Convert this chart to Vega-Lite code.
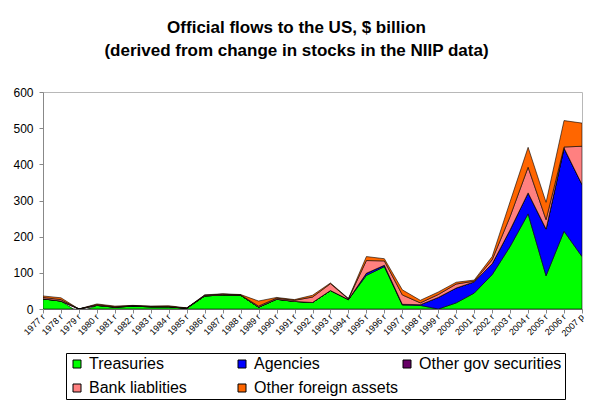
{
"$schema": "https://vega.github.io/schema/vega-lite/v6.json",
"width": 539, "height": 217,
"autosize": "none",
"padding": {"left": 43, "top": 92, "right": 11, "bottom": 96},
"background": "white",
"title": {"text": ["Official flows to the US, $ billion", "(derived from change in stocks in the NIIP data)"], "font": "Liberation Sans", "fontSize": 17, "fontWeight": "bold", "color": "black", "anchor": "middle", "dx": -16, "offset": 26, "lineHeight": 23},
"data": {"values": [
{"year":"1977 r","series":"Treasuries","value":28},{"year":"1977 r","series":"Agencies","value":0},{"year":"1977 r","series":"Other gov securities","value":0},{"year":"1977 r","series":"Bank liablities","value":4},{"year":"1977 r","series":"Other foreign assets","value":4},
{"year":"1978 r","series":"Treasuries","value":22},{"year":"1978 r","series":"Agencies","value":0},{"year":"1978 r","series":"Other gov securities","value":0},{"year":"1978 r","series":"Bank liablities","value":4},{"year":"1978 r","series":"Other foreign assets","value":5},
{"year":"1979 r","series":"Treasuries","value":-10},{"year":"1979 r","series":"Agencies","value":0},{"year":"1979 r","series":"Other gov securities","value":0},{"year":"1979 r","series":"Bank liablities","value":0},{"year":"1979 r","series":"Other foreign assets","value":0},
{"year":"1980 r","series":"Treasuries","value":10},{"year":"1980 r","series":"Agencies","value":0},{"year":"1980 r","series":"Other gov securities","value":0},{"year":"1980 r","series":"Bank liablities","value":2},{"year":"1980 r","series":"Other foreign assets","value":2},
{"year":"1981 r","series":"Treasuries","value":5},{"year":"1981 r","series":"Agencies","value":0},{"year":"1981 r","series":"Other gov securities","value":0},{"year":"1981 r","series":"Bank liablities","value":1},{"year":"1981 r","series":"Other foreign assets","value":2},
{"year":"1982 r","series":"Treasuries","value":8},{"year":"1982 r","series":"Agencies","value":0},{"year":"1982 r","series":"Other gov securities","value":0},{"year":"1982 r","series":"Bank liablities","value":1},{"year":"1982 r","series":"Other foreign assets","value":1},
{"year":"1983 r","series":"Treasuries","value":6},{"year":"1983 r","series":"Agencies","value":0},{"year":"1983 r","series":"Other gov securities","value":0},{"year":"1983 r","series":"Bank liablities","value":1},{"year":"1983 r","series":"Other foreign assets","value":1},
{"year":"1984 r","series":"Treasuries","value":6},{"year":"1984 r","series":"Agencies","value":0},{"year":"1984 r","series":"Other gov securities","value":0},{"year":"1984 r","series":"Bank liablities","value":1},{"year":"1984 r","series":"Other foreign assets","value":2},
{"year":"1985 r","series":"Treasuries","value":2},{"year":"1985 r","series":"Agencies","value":0},{"year":"1985 r","series":"Other gov securities","value":0},{"year":"1985 r","series":"Bank liablities","value":0},{"year":"1985 r","series":"Other foreign assets","value":1},
{"year":"1986 r","series":"Treasuries","value":36},{"year":"1986 r","series":"Agencies","value":0},{"year":"1986 r","series":"Other gov securities","value":0},{"year":"1986 r","series":"Bank liablities","value":2},{"year":"1986 r","series":"Other foreign assets","value":1},
{"year":"1987 r","series":"Treasuries","value":39},{"year":"1987 r","series":"Agencies","value":0},{"year":"1987 r","series":"Other gov securities","value":0},{"year":"1987 r","series":"Bank liablities","value":2},{"year":"1987 r","series":"Other foreign assets","value":1},
{"year":"1988 r","series":"Treasuries","value":38},{"year":"1988 r","series":"Agencies","value":0},{"year":"1988 r","series":"Other gov securities","value":0},{"year":"1988 r","series":"Bank liablities","value":1},{"year":"1988 r","series":"Other foreign assets","value":1},
{"year":"1989 r","series":"Treasuries","value":5},{"year":"1989 r","series":"Agencies","value":0},{"year":"1989 r","series":"Other gov securities","value":0},{"year":"1989 r","series":"Bank liablities","value":3},{"year":"1989 r","series":"Other foreign assets","value":14},
{"year":"1990 r","series":"Treasuries","value":27},{"year":"1990 r","series":"Agencies","value":0},{"year":"1990 r","series":"Other gov securities","value":0},{"year":"1990 r","series":"Bank liablities","value":3},{"year":"1990 r","series":"Other foreign assets","value":2},
{"year":"1991 r","series":"Treasuries","value":21},{"year":"1991 r","series":"Agencies","value":0},{"year":"1991 r","series":"Other gov securities","value":0},{"year":"1991 r","series":"Bank liablities","value":3},{"year":"1991 r","series":"Other foreign assets","value":2},
{"year":"1992 r","series":"Treasuries","value":18},{"year":"1992 r","series":"Agencies","value":0},{"year":"1992 r","series":"Other gov securities","value":0},{"year":"1992 r","series":"Bank liablities","value":15},{"year":"1992 r","series":"Other foreign assets","value":5},
{"year":"1993 r","series":"Treasuries","value":51},{"year":"1993 r","series":"Agencies","value":0},{"year":"1993 r","series":"Other gov securities","value":0},{"year":"1993 r","series":"Bank liablities","value":19},{"year":"1993 r","series":"Other foreign assets","value":2},
{"year":"1994 r","series":"Treasuries","value":26},{"year":"1994 r","series":"Agencies","value":0},{"year":"1994 r","series":"Other gov securities","value":0},{"year":"1994 r","series":"Bank liablities","value":2},{"year":"1994 r","series":"Other foreign assets","value":1},
{"year":"1995 r","series":"Treasuries","value":93},{"year":"1995 r","series":"Agencies","value":6},{"year":"1995 r","series":"Other gov securities","value":0},{"year":"1995 r","series":"Bank liablities","value":35},{"year":"1995 r","series":"Other foreign assets","value":11},
{"year":"1996 r","series":"Treasuries","value":117},{"year":"1996 r","series":"Agencies","value":4},{"year":"1996 r","series":"Other gov securities","value":0},{"year":"1996 r","series":"Bank liablities","value":12},{"year":"1996 r","series":"Other foreign assets","value":6},
{"year":"1997 r","series":"Treasuries","value":11},{"year":"1997 r","series":"Agencies","value":2},{"year":"1997 r","series":"Other gov securities","value":0},{"year":"1997 r","series":"Bank liablities","value":26},{"year":"1997 r","series":"Other foreign assets","value":14},
{"year":"1998 r","series":"Treasuries","value":10},{"year":"1998 r","series":"Agencies","value":2},{"year":"1998 r","series":"Other gov securities","value":0},{"year":"1998 r","series":"Bank liablities","value":5},{"year":"1998 r","series":"Other foreign assets","value":7},
{"year":"1999 r","series":"Treasuries","value":0},{"year":"1999 r","series":"Agencies","value":32},{"year":"1999 r","series":"Other gov securities","value":0},{"year":"1999 r","series":"Bank liablities","value":8},{"year":"1999 r","series":"Other foreign assets","value":7},
{"year":"2000 r","series":"Treasuries","value":17},{"year":"2000 r","series":"Agencies","value":41},{"year":"2000 r","series":"Other gov securities","value":0},{"year":"2000 r","series":"Bank liablities","value":11},{"year":"2000 r","series":"Other foreign assets","value":5},
{"year":"2001 r","series":"Treasuries","value":44},{"year":"2001 r","series":"Agencies","value":31},{"year":"2001 r","series":"Other gov securities","value":0},{"year":"2001 r","series":"Bank liablities","value":2},{"year":"2001 r","series":"Other foreign assets","value":3},
{"year":"2002 r","series":"Treasuries","value":95},{"year":"2002 r","series":"Agencies","value":30},{"year":"2002 r","series":"Other gov securities","value":0},{"year":"2002 r","series":"Bank liablities","value":11},{"year":"2002 r","series":"Other foreign assets","value":9},
{"year":"2003 r","series":"Treasuries","value":173},{"year":"2003 r","series":"Agencies","value":46},{"year":"2003 r","series":"Other gov securities","value":0},{"year":"2003 r","series":"Bank liablities","value":37},{"year":"2003 r","series":"Other foreign assets","value":41},
{"year":"2004 r","series":"Treasuries","value":263},{"year":"2004 r","series":"Agencies","value":58},{"year":"2004 r","series":"Other gov securities","value":0},{"year":"2004 r","series":"Bank liablities","value":71},{"year":"2004 r","series":"Other foreign assets","value":55},
{"year":"2005 r","series":"Treasuries","value":92},{"year":"2005 r","series":"Agencies","value":129},{"year":"2005 r","series":"Other gov securities","value":0},{"year":"2005 r","series":"Bank liablities","value":26},{"year":"2005 r","series":"Other foreign assets","value":48},
{"year":"2006 r","series":"Treasuries","value":215},{"year":"2006 r","series":"Agencies","value":230},{"year":"2006 r","series":"Other gov securities","value":0},{"year":"2006 r","series":"Bank liablities","value":3},{"year":"2006 r","series":"Other foreign assets","value":73},
{"year":"2007 p","series":"Treasuries","value":145},{"year":"2007 p","series":"Agencies","value":199},{"year":"2007 p","series":"Other gov securities","value":0},{"year":"2007 p","series":"Bank liablities","value":106},{"year":"2007 p","series":"Other foreign assets","value":64}
]},
"transform": [{"calculate": "indexof(['Treasuries','Agencies','Other gov securities','Bank liablities','Other foreign assets'], datum.series)", "as": "k"}],
"mark": {"type": "area", "stroke": "black", "strokeWidth": 0.6, "clip": true, "opacity": 1, "interpolate": "linear"},
"encoding": {
  "x": {"field": "year", "type": "ordinal", "sort": null, "scale": {"type": "point", "padding": 0},
        "axis": {"title": null, "labelAngle": -45, "labelAlign": "right", "labelBaseline": "middle", "labelFontSize": 9, "labelFont": "Liberation Sans", "labelColor": "black", "labelOverlap": false, "labelPadding": 2, "tickSize": 4, "tickColor": "#888", "domainColor": "#666", "grid": false}},
  "y": {"field": "value", "type": "quantitative", "stack": "zero", "scale": {"domain": [0, 600], "nice": false},
        "axis": {"title": null, "values": [0,100,200,300,400,500,600], "labelFontSize": 12, "labelFont": "Liberation Sans", "labelColor": "black", "labelPadding": 6, "tickSize": 4, "tickColor": "#888", "domainColor": "#888", "grid": false}},
  "color": {"field": "series", "type": "nominal",
        "scale": {"domain": ["Treasuries","Agencies","Other gov securities","Bank liablities","Other foreign assets"], "range": ["#00ff00","#0000ff","#660066","#ff8080","#ff6600"]},
        "legend": {"title": null, "orient": "none", "legendX": 23, "legendY": 261, "direction": "horizontal", "columns": 3, "gridAlign": "all", "columnPadding": -3, "rowPadding": 8, "padding": 3, "strokeColor": "black", "fillColor": "white", "symbolType": "square", "symbolSize": 64, "symbolStrokeColor": "black", "symbolStrokeWidth": 1, "symbolOpacity": 1, "labelFontSize": 16, "labelFont": "Liberation Sans", "labelColor": "black", "labelOffset": 4, "labelLimit": 300}},
  "order": {"field": "k", "type": "quantitative"}
},
"config": {"view": {"stroke": "#b8b8b8"}, "font": "Liberation Sans"}
}
